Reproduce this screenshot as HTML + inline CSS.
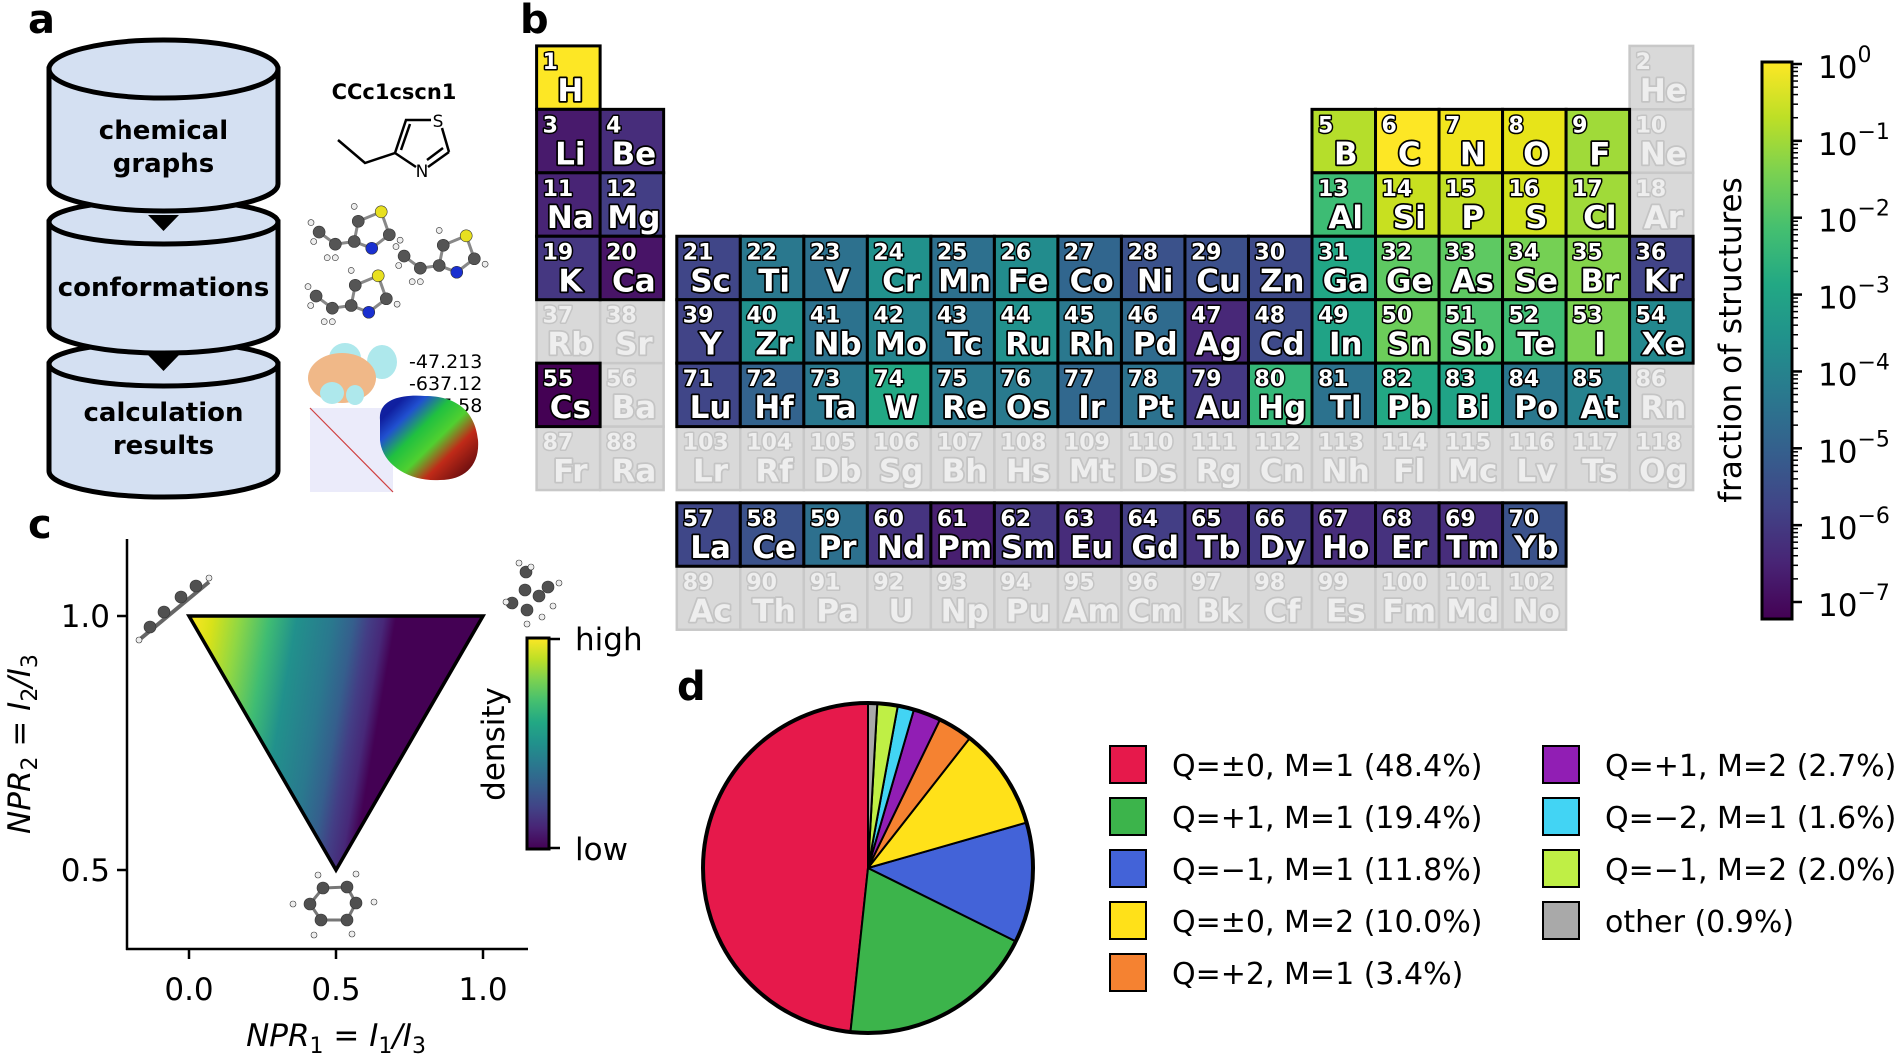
<!DOCTYPE html>
<html><head><meta charset="utf-8"><style>
html,body{margin:0;padding:0;background:#fff;}
svg{display:block;}
text{font-family:"DejaVu Sans","Liberation Sans",sans-serif;}
.bold{font-weight:bold;}
</style></head><body>
<svg id="fig" xmlns="http://www.w3.org/2000/svg" width="1895" height="1054" viewBox="0 0 1895 1054">
<defs>
<linearGradient id="viridisV" x1="0" y1="1" x2="0" y2="0">
<stop offset="0" stop-color="#440154"/><stop offset="0.1" stop-color="#482475"/><stop offset="0.2" stop-color="#414487"/><stop offset="0.3" stop-color="#355f8d"/><stop offset="0.4" stop-color="#2a788e"/><stop offset="0.5" stop-color="#21918c"/><stop offset="0.6" stop-color="#22a884"/><stop offset="0.7" stop-color="#44bf70"/><stop offset="0.8" stop-color="#7ad151"/><stop offset="0.9" stop-color="#bddf26"/><stop offset="1" stop-color="#fde725"/>
</linearGradient>
<linearGradient id="densGrad" x1="0" y1="0" x2="1" y2="0.15">
<stop offset="0" stop-color="#fde725"/><stop offset="0.08" stop-color="#d8e219"/><stop offset="0.17" stop-color="#8fd744"/><stop offset="0.27" stop-color="#3fbc73"/><stop offset="0.36" stop-color="#21918c"/><stop offset="0.48" stop-color="#2a788e"/><stop offset="0.55" stop-color="#355f8d"/><stop offset="0.6" stop-color="#433e85"/><stop offset="0.65" stop-color="#472878"/><stop offset="0.69" stop-color="#440154"/><stop offset="1" stop-color="#440154"/>
</linearGradient>
<linearGradient id="espGrad" x1="0" y1="0.3" x2="0.8" y2="1">
<stop offset="0" stop-color="#1020a0"/><stop offset="0.15" stop-color="#2050d0"/><stop offset="0.35" stop-color="#20c040"/><stop offset="0.55" stop-color="#50d030"/><stop offset="0.75" stop-color="#c02a18"/><stop offset="1" stop-color="#701010"/>
</linearGradient>
</defs>

<!-- Panel a -->
<g id="panel-a">
<text x="28" y="33" class="bold" font-size="40" font-family="Liberation Sans">a</text>
<g>
<path d="M49,364 L49,471 A114.5,26 0 0 0 278,471 L278,364 Z" fill="#d4e0f2" stroke="#000" stroke-width="5"/>
<ellipse cx="163.5" cy="364" rx="114.5" ry="22" fill="#d4e0f2" stroke="#000" stroke-width="5"/>
<text x="163.5" y="421" text-anchor="middle" font-size="26" class="bold" font-family="Liberation Sans">calculation</text>
<text x="163.5" y="454" text-anchor="middle" font-size="26" class="bold" font-family="Liberation Sans">results</text>
</g>
<g>
<path d="M49,222 L49,327 A114.5,26 0 0 0 278,327 L278,222 Z" fill="#d4e0f2" stroke="#000" stroke-width="5"/>
<ellipse cx="163.5" cy="222" rx="114.5" ry="22" fill="#d4e0f2" stroke="#000" stroke-width="5"/>
<text x="163.5" y="296" text-anchor="middle" font-size="26" class="bold" font-family="Liberation Sans">conformations</text>
</g>
<g>
<path d="M49,69 L49,184 A114.5,27 0 0 0 278,184 L278,69 Z" fill="#d4e0f2" stroke="#000" stroke-width="5"/>
<ellipse cx="163.5" cy="69" rx="114.5" ry="29" fill="#d4e0f2" stroke="#000" stroke-width="5"/>
<text x="163.5" y="139" text-anchor="middle" font-size="26" class="bold" font-family="Liberation Sans">chemical</text>
<text x="163.5" y="172" text-anchor="middle" font-size="26" class="bold" font-family="Liberation Sans">graphs</text>
</g>
<polygon points="148,215 179,215 163.5,231" fill="#000"/>
<polygon points="148,355 179,355 163.5,371" fill="#000"/>
<text x="394" y="99" text-anchor="middle" font-size="21" class="bold" font-family="Liberation Sans">CCc1cscn1</text>
<g stroke="#000" stroke-width="2.5" fill="none">
<polyline points="338,140 365,163 395,153 406,120 431,120"/>
<line x1="401" y1="150" x2="410" y2="124"/>
<line x1="442" y1="128" x2="449" y2="152"/>
<line x1="449" y1="152" x2="428" y2="167"/>
<line x1="443" y1="148" x2="427" y2="160"/>
<line x1="395" y1="153" x2="416" y2="167"/>
</g>
<text x="438" y="127" text-anchor="middle" font-size="17" font-family="Liberation Sans">S</text>
<text x="422" y="177" text-anchor="middle" font-size="17" font-family="Liberation Sans">N</text>
<g id="conformers"></g>
<g>
<ellipse cx="345" cy="358" rx="16" ry="15" fill="#aee8ec"/>
<ellipse cx="382" cy="362" rx="15" ry="17" fill="#aee8ec"/>
<ellipse cx="342" cy="378" rx="34" ry="25" fill="#f0b888"/>
<ellipse cx="332" cy="393" rx="12" ry="11" fill="#aee8ec"/>
<ellipse cx="355" cy="395" rx="9" ry="10" fill="#aee8ec"/>
</g>
<g>
<rect x="310" y="408" width="83" height="84" fill="#ebebfa"/>
<line x1="310" y1="408" x2="393" y2="492" stroke="#d04040" stroke-width="1.2"/>
</g>
<text x="409" y="368" font-size="19" font-family="Liberation Mono">-47.213</text>
<text x="409" y="390" font-size="19" font-family="Liberation Mono">-637.12</text>
<text x="409" y="412" font-size="19" font-family="Liberation Mono">-637.58</text>
<path d="M380,420 C378,400 400,394 425,396 C455,396 475,410 478,440 C480,465 465,480 440,480 C410,482 382,465 380,440 Z" fill="url(#espGrad)"/>
</g>

<!-- Panel b -->
<text x="520" y="33" class="bold" font-size="40" font-family="Liberation Sans">b</text>
<g id="ptable"></g>
<g id="pcbar">
<rect x="1762" y="62" width="30" height="557" fill="url(#viridisV)" stroke="#000" stroke-width="3"/>
</g>
<text transform="translate(1741,340) rotate(-90)" text-anchor="middle" font-size="31">fraction of structures</text>

<!-- Panel c -->
<text x="28" y="538" class="bold" font-size="40" font-family="Liberation Sans">c</text>
<g id="npr"></g>

<!-- Panel d -->
<text x="677" y="700" class="bold" font-size="40" font-family="Liberation Sans">d</text>
<g id="pie"></g>
<g id="legend"></g>
</svg>

<script>
// ---------- data ----------
const pieLabels = ["Q=\u00b10, M=1 (48.4%)","Q=+1, M=1 (19.4%)","Q=\u22121, M=1 (11.8%)","Q=\u00b10, M=2 (10.0%)","Q=+2, M=1 (3.4%)","Q=+1, M=2 (2.7%)","Q=\u22122, M=1 (1.6%)","Q=\u22121, M=2 (2.0%)","other (0.9%)"];
const pieValues = [48.4, 19.4, 11.8, 10.0, 3.4, 2.7, 1.6, 2.0, 0.9];
const pieColors = ["#e6194b","#3cb44b","#4363d8","#ffe119","#f58231","#911eb4","#42d4f4","#bfef45","#a9a9a9"];

const cbarExponents = [0, -1, -2, -3, -4, -5, -6, -7];
const nprXTicks = [0.0, 0.5, 1.0];
const nprYTicks = [0.5, 1.0];
const nprTriangleX = [0, 1, 0.5];
const nprTriangleY = [1, 1, 0.5];

// Elements: Z, symbol, group column, row, colour ('' = no data)
const elements = [
[1,"H",1,0,"#fde725"],[2,"He",18,0,""],
[3,"Li",1,1,"#481a6c"],[4,"Be",2,1,"#472d7b"],[5,"B",13,1,"#b5de2b"],[6,"C",14,1,"#fde725"],[7,"N",15,1,"#f1e51d"],[8,"O",16,1,"#e7e419"],[9,"F",17,1,"#a0da39"],[10,"Ne",18,1,""],
[11,"Na",1,2,"#482475"],[12,"Mg",2,2,"#433e85"],[13,"Al",13,2,"#3dbc74"],[14,"Si",14,2,"#c8e020"],[15,"P",15,2,"#c2df23"],[16,"S",16,2,"#d2e21b"],[17,"Cl",17,2,"#a0da39"],[18,"Ar",18,2,""],
[19,"K",1,3,"#453781"],[20,"Ca",2,3,"#481467"],[21,"Sc",3,3,"#404688"],[22,"Ti",4,3,"#2a788e"],[23,"V",5,3,"#2d718e"],[24,"Cr",6,3,"#21918c"],[25,"Mn",7,3,"#2d708e"],[26,"Fe",8,3,"#228c8d"],[27,"Co",9,3,"#31668e"],[28,"Ni",10,3,"#3b528b"],[29,"Cu",11,3,"#3c508b"],[30,"Zn",12,3,"#3e4a89"],[31,"Ga",13,3,"#21a685"],[32,"Ge",14,3,"#5ec962"],[33,"As",15,3,"#5ec962"],[34,"Se",16,3,"#75d054"],[35,"Br",17,3,"#84d44b"],[36,"Kr",18,3,"#414487"],
[37,"Rb",1,4,""],[38,"Sr",2,4,""],[39,"Y",3,4,"#414487"],[40,"Zr",4,4,"#21918c"],[41,"Nb",5,4,"#2c728e"],[42,"Mo",6,4,"#25858e"],[43,"Tc",7,4,"#2c728e"],[44,"Ru",8,4,"#21918c"],[45,"Rh",9,4,"#2a788e"],[46,"Pd",10,4,"#2f6b8e"],[47,"Ag",11,4,"#482878"],[48,"Cd",12,4,"#3e4a89"],[49,"In",13,4,"#20a386"],[50,"Sn",14,4,"#6ccd5a"],[51,"Sb",15,4,"#4ac16d"],[52,"Te",16,4,"#3fbc73"],[53,"I",17,4,"#7ad151"],[54,"Xe",18,4,"#23888e"],
[55,"Cs",1,5,"#440154"],[56,"Ba",2,5,""],[71,"Lu",3,5,"#404688"],[72,"Hf",4,5,"#33638d"],[73,"Ta",5,5,"#2a788e"],[74,"W",6,5,"#22a884"],[75,"Re",7,5,"#2a788e"],[76,"Os",8,5,"#297a8e"],[77,"Ir",9,5,"#31688e"],[78,"Pt",10,5,"#2c728e"],[79,"Au",11,5,"#443983"],[80,"Hg",12,5,"#35b779"],[81,"Tl",13,5,"#2c728e"],[82,"Pb",14,5,"#22a884"],[83,"Bi",15,5,"#20a386"],[84,"Po",16,5,"#2a788e"],[85,"At",17,5,"#26828e"],[86,"Rn",18,5,""],
[87,"Fr",1,6,""],[88,"Ra",2,6,""],[103,"Lr",3,6,""],[104,"Rf",4,6,""],[105,"Db",5,6,""],[106,"Sg",6,6,""],[107,"Bh",7,6,""],[108,"Hs",8,6,""],[109,"Mt",9,6,""],[110,"Ds",10,6,""],[111,"Rg",11,6,""],[112,"Cn",12,6,""],[113,"Nh",13,6,""],[114,"Fl",14,6,""],[115,"Mc",15,6,""],[116,"Lv",16,6,""],[117,"Ts",17,6,""],[118,"Og",18,6,""],
[57,"La",3,7,"#3f4788"],[58,"Ce",4,7,"#3b528b"],[59,"Pr",5,7,"#2d708e"],[60,"Nd",6,7,"#463480"],[61,"Pm",7,7,"#481f70"],[62,"Sm",8,7,"#453781"],[63,"Eu",9,7,"#472c7a"],[64,"Gd",10,7,"#433e85"],[65,"Tb",11,7,"#46327e"],[66,"Dy",12,7,"#443983"],[67,"Ho",13,7,"#472d7b"],[68,"Er",14,7,"#46327e"],[69,"Tm",15,7,"#472d7b"],[70,"Yb",16,7,"#3b528b"],
[89,"Ac",3,8,""],[90,"Th",4,8,""],[91,"Pa",5,8,""],[92,"U",6,8,""],[93,"Np",7,8,""],[94,"Pu",8,8,""],[95,"Am",9,8,""],[96,"Cm",10,8,""],[97,"Bk",11,8,""],[98,"Cf",12,8,""],[99,"Es",13,8,""],[100,"Fm",14,8,""],[101,"Md",15,8,""],[102,"No",16,8,""]
];

const NS = "http://www.w3.org/2000/svg";
function mk(tag, attrs, parent){ const e=document.createElementNS(NS,tag); for(const k in attrs) e.setAttribute(k, attrs[k]); if(parent) parent.appendChild(e); return e; }

// ---------- periodic table ----------
const pt = document.getElementById("ptable");
const CW = 63.52, CH = 63.45;
function colX(c){ return c<=2 ? 536.6+(c-1)*CW : 676.8+(c-3)*CW; }
function rowY(r){ return r<7 ? 45.9 + r*CH : 502.8 + (r-7)*CH; }
const grayCells = elements.filter(e=>!e[4]);
const colorCells = elements.filter(e=>e[4]);
[...grayCells, ...colorCells].forEach(e=>{
  const x=colX(e[2]), y=rowY(e[3]);
  const has = !!e[4];
  const g = mk("g", {}, pt);
  
  
  mk("rect", {x:x, y:y, width:CW, height:CH, fill: has?e[4]:"#d9d9d9", stroke: has?"#000":"#c8c8c8", "stroke-width": has?3:2.5}, g);
  const fill = has?"#fff":"#eeeeee", stroke = has?"#000":"#c4c4c4";
  const num = mk("text", {x:x+6, y:y+23, "font-size":22, "font-weight":"bold", fill:fill, stroke:stroke, "stroke-width":3, "paint-order":"stroke", "stroke-linejoin":"round"}, g);
  num.textContent = e[0];
  const sym = mk("text", {x:x+CW/2+2, y:y+55, "font-size":31, "font-weight":"bold", "text-anchor":"middle", fill:fill, stroke:stroke, "stroke-width":3.5, "paint-order":"stroke", "stroke-linejoin":"round"}, g);
  sym.textContent = e[1];
});

// ---------- colorbar ----------
const cb = document.getElementById("pcbar");
const cbTop = 64, cbBot = 602;
function cbY(exp){ return cbTop + (0-exp)/7*(cbBot-cbTop); }
cbarExponents.forEach(ex=>{
  const y=cbY(ex);
  const t = mk("line", {x1:1792, x2:1802, y1:y, y2:y, stroke:"#000", "stroke-width":2.5}, cb);
  
  
  const lbl = mk("text", {x:1818, y:y+14, "font-size":31}, cb);
  
  
  lbl.textContent = "10";
  const sup = mk("tspan", {dy:-16, "font-size":22}, lbl);
  sup.textContent = ex===0 ? "0" : "\u2212"+(-ex);
  if(ex>-7){
    for(let m=2;m<=9;m++){
      const my = cbY(ex-1+Math.log10(m));
      mk("line", {x1:1792, x2:1798, y1:my, y2:my, stroke:"#000", "stroke-width":1.5}, cb);
    }
  }
});

// ---------- NPR plot ----------
const np = document.getElementById("npr");
function nx(v){ return 189 + v*294; }
function ny(v){ return 870 - (v-0.5)*508; }
const yax = mk("line", {x1:127, y1:539, x2:127, y2:950, stroke:"#000", "stroke-width":2.5}, np);


const xax = mk("line", {x1:126, y1:949, x2:528, y2:949, stroke:"#000", "stroke-width":2.5}, np);


nprXTicks.forEach(v=>{
  const tk = mk("line", {x1:nx(v), x2:nx(v), y1:949, y2:959, stroke:"#000", "stroke-width":2.5}, np);
  
  
  const tl = mk("text", {x:nx(v), y:1000, "font-size":31, "text-anchor":"middle"}, np);
  
  
  tl.textContent = v.toFixed(1);
});
nprYTicks.forEach(v=>{
  const tk = mk("line", {x1:117, x2:127, y1:ny(v), y2:ny(v), stroke:"#000", "stroke-width":2.5}, np);
  
  
  const tl = mk("text", {x:110, y:ny(v)+11, "font-size":31, "text-anchor":"end"}, np);
  
  
  tl.textContent = v.toFixed(1);
});
const triPts = nprTriangleX.map((v,i)=>nx(v)+","+ny(nprTriangleY[i])).join(" ");
const tri = mk("polygon", {points:triPts, fill:"url(#densGrad)", stroke:"#000", "stroke-width":3.5, "stroke-linejoin":"miter"}, np);


const xl = mk("text", {x:336, y:1046, "font-size":31, "text-anchor":"middle"}, np);


xl.innerHTML = '<tspan font-style="italic">NPR</tspan><tspan font-size="22" dy="7">1</tspan><tspan dy="-7"> = </tspan><tspan font-style="italic">I</tspan><tspan font-size="22" dy="7">1</tspan><tspan dy="-7" font-style="italic">/I</tspan><tspan font-size="22" dy="7">3</tspan>';
const yl = mk("text", {transform:"translate(30,744) rotate(-90)", "font-size":31, "text-anchor":"middle"}, np);


yl.innerHTML = '<tspan font-style="italic">NPR</tspan><tspan font-size="22" dy="7">2</tspan><tspan dy="-7"> = </tspan><tspan font-style="italic">I</tspan><tspan font-size="22" dy="7">2</tspan><tspan dy="-7" font-style="italic">/I</tspan><tspan font-size="22" dy="7">3</tspan>';
const dcb = mk("g", {}, np);


mk("rect", {x:527, y:638, width:22, height:211, fill:"url(#viridisV)", stroke:"#000", "stroke-width":3}, dcb);
mk("line", {x1:549, x2:560, y1:639, y2:639, stroke:"#000", "stroke-width":2.5}, dcb);
mk("line", {x1:549, x2:560, y1:848, y2:848, stroke:"#000", "stroke-width":2.5}, dcb);
const hi = mk("text", {x:575, y:650, "font-size":31}, dcb); hi.textContent="high";
const lo = mk("text", {x:575, y:860, "font-size":31}, dcb); lo.textContent="low";
const dl = mk("text", {transform:"translate(504,744) rotate(-90)", "font-size":31, "text-anchor":"middle"}, dcb); dl.textContent="density";

function ball(g, x, y, r, c){ mk("circle", {cx:x, cy:y, r:r, fill:c, stroke:"#333", "stroke-width":0.6}, g); }
const mols = mk("g", {}, np);


mk("line", {x1:139, y1:640, x2:209, y2:582, stroke:"#666", "stroke-width":4}, mols);
[[150,627],[164,612],[181,597],[196,586]].forEach(p=>ball(mols,p[0],p[1],6,"#505050"));
ball(mols,139,640,3,"#eee"); ball(mols,209,578,3,"#eee");
[[526,572],[525,590],[539,596],[512,603],[527,610],[548,587]].forEach(p=>ball(mols,p[0],p[1],6,"#505050"));
[[519,563],[531,567],[506,602],[553,606],[542,617],[527,624],[559,583]].forEach(p=>ball(mols,p[0],p[1],3,"#eee"));
const bz = [[323,888],[347,887],[356,903],[347,920],[321,920],[310,904]];
mk("polygon",{points:bz.map(p=>p.join(",")).join(" "), fill:"none", stroke:"#777", "stroke-width":3}, mols);
bz.forEach(p=>ball(mols,p[0],p[1],6,"#505050"));
[[318,875],[356,874],[374,902],[352,934],[314,935],[293,904]].forEach(p=>ball(mols,p[0],p[1],3,"#eee"));

// conformers in panel a
const conf = document.getElementById("conformers");
function thz(cx, cy){
  const s=1.35;
  const P=(dx,dy)=>[cx+dx*s, cy+dy*s];
  const ring=[P(-5,-5),P(12,-12),P(18,5),P(5,15),P(-8,10)];
  mk("polygon",{points:ring.map(p=>p.join(",")).join(" "), fill:"none", stroke:"#888", "stroke-width":3}, conf);
  const e1=P(-22,12), e2=P(-34,3);
  mk("polyline",{points:[P(-8,10),e1,e2].map(p=>p.join(",")).join(" "), fill:"none", stroke:"#888", "stroke-width":3}, conf);
  [P(-40,-4),P(-38,10),P(-22,22),P(-28,22),P(26,9),P(-8,-16)].forEach(p=>ball(conf,p[0],p[1],3,"#eee"));
  ball(conf, ...e2, 6, "#555"); ball(conf, ...e1, 6, "#555");
  ball(conf, ...P(-8,10), 6, "#555"); ball(conf, ...P(-5,-5), 6, "#555");
  ball(conf, ...P(12,-12), 6, "#e8e020"); ball(conf, ...P(18,5), 6, "#555");
  ball(conf, ...P(5,15), 6, "#1a30d0");
}
thz(365, 228); thz(450, 252); thz(362, 292);

// ---------- pie ----------
const pie = document.getElementById("pie");
const pcx = 868, pcy = 868, pr = 165;
const total = pieValues.reduce((a,b)=>a+b,0);
let acc = 0;
function pt2(a){ return [pcx - pr*Math.sin(a), pcy - pr*Math.cos(a)]; }
pieValues.forEach((v,i)=>{
  const a0 = acc/total*2*Math.PI; acc += v; const a1 = acc/total*2*Math.PI;
  const p0 = pt2(a0), p1 = pt2(a1);
  const large = (a1-a0) > Math.PI ? 1 : 0;
  const s = mk("path", {d:`M${pcx},${pcy} L${p0[0]},${p0[1]} A${pr},${pr} 0 ${large} 0 ${p1[0]},${p1[1]} Z`, fill:pieColors[i], stroke:"#000", "stroke-width":2, "stroke-linejoin":"round"}, pie);
  
  
});
mk("circle", {cx:pcx, cy:pcy, r:pr, fill:"none", stroke:"#000", "stroke-width":4}, pie);

// ---------- legend ----------
const lg = document.getElementById("legend");
pieLabels.forEach((lab,i)=>{
  const col = i<5 ? 0 : 1, row = i<5 ? i : i-5;
  const bx = col===0 ? 1110 : 1543, by = 746 + row*52;
  const g = mk("g", {}, lg);
  
  
  mk("rect", {x:bx, y:by, width:36, height:37, fill:pieColors[i], stroke:"#000", "stroke-width":2}, g);
  const t = mk("text", {x:bx+62, y:by+30, "font-size":30}, g);
  t.textContent = lab;
});
</script>
</body></html>
